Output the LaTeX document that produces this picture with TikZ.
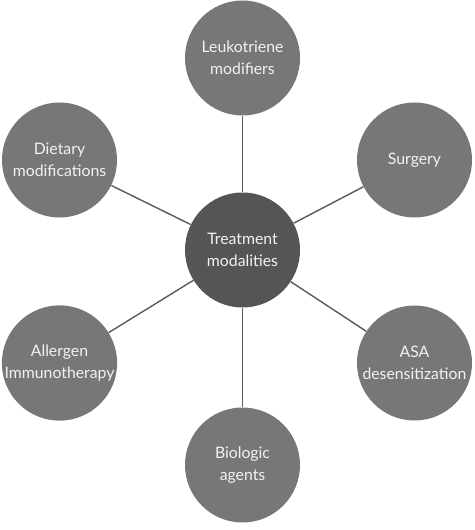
\documentclass[tikz,border=0pt]{standalone}
\usepackage{fontspec}
\setmainfont{Lato}
\usepackage{tikz}
\usetikzlibrary{shapes,calc}

\definecolor{hubgray}{HTML}{555555}
\definecolor{leafgray}{HTML}{777777}
\definecolor{linegray}{HTML}{5A5A5A}

\begin{document}
\begin{tikzpicture}[join=round]
		\tikzstyle{leaf}=[circle, fill=leafgray, draw=none, minimum size=115pt, inner sep=0pt, align=center, text=white!95!black, font=\fontsize{15.8}{21.5}\selectfont]
		\tikzstyle{hub}=[leaf, fill=hubgray]
		\tikzstyle{spoke}=[draw=linegray, line width=1.4pt]
		
		\useasboundingbox[fill=white] (0,0) rectangle (474pt, 530pt);
		
		\node[hub] (treat) at (242.5pt, 280pt) {Treatment\\modalities};
		
		\node[leaf] (leuko) at (242.5pt, 472pt) {Leukotriene\\modifiers};
		\node[leaf] (surg) at (414.5pt, 370pt) {Surgery};
		\node[leaf] (asa) at (414.5pt, 167pt) {ASA\\desensitization};
		\node[leaf] (bio) at (242.5pt, 65pt) {Biologic\\agents};
		\node[leaf] (allerg) at (59.5pt, 167pt) {Allergen\\Immunotherapy};
		\node[leaf] (diet) at (59.5pt, 370pt) {Dietary\\modifications};
		
		\draw[spoke] (treat) -- (leuko);
		\draw[spoke] (treat) -- (surg);
		\draw[spoke] (treat) -- (asa);
		\draw[spoke] (treat) -- (bio);
		\draw[spoke] (treat) -- (allerg);
		\draw[spoke] (treat) -- (diet);
	\end{tikzpicture}
\end{document}
